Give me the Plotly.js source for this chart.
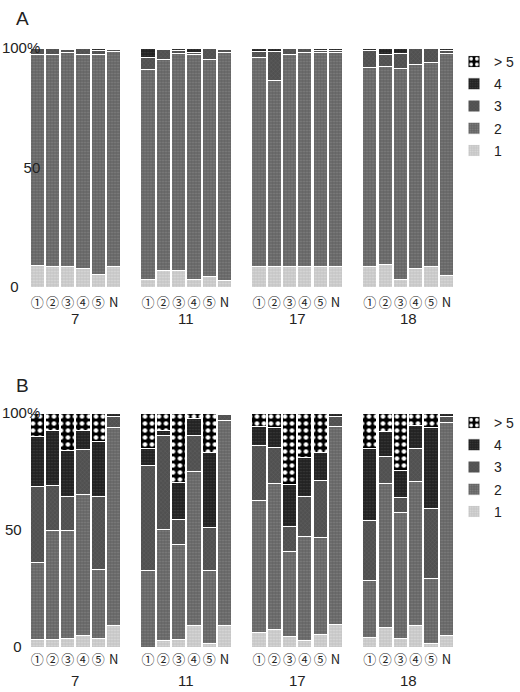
<!DOCTYPE html>
<html><head><meta charset="utf-8">
<script src="https://cdn.plot.ly/plotly-3.0.1.min.js"></script>
<style>html,body{margin:0;padding:0;background:#fff}#chart{width:520px;height:692px}</style>
</head><body><div id="chart"></div>
<script>
// ---- data ----
const groups = ['7', '11', '17', '18'];
const barLabels = ['①', '②', '③', '④', '⑤', 'N'];
const seriesNames = ['1', '2', '3', '4', '> 5'];

// Panel A (% of cells), 6 bars per group, groups in order 7, 11, 17, 18
const A1 = [8.9, 8.4, 8.4, 7.7, 5.1, 8.6,  3.3, 6.8, 6.8, 3.1, 4.4, 2.6,  8.4, 8.6, 8.6, 8.6, 8.6, 8.6,  8.6, 9.6, 3.1, 7.9, 8.4, 4.7];
const A2 = [88.4, 88.8, 89.6, 89.6, 92.1, 90.0,  87.5, 88.2, 91.0, 94.0, 90.6, 95.7,  87.7, 77.7, 88.6, 89.4, 89.7, 89.6,  83.3, 82.6, 88.5, 85.4, 85.6, 92.8];
const A3 = [2.7, 2.8, 1.2, 2.7, 1.9, 0.7,  5.4, 4.3, 1.0, 1.2, 5.0, 0.9,  2.4, 12.3, 2.8, 2.0, 0.5, 0.6,  7.1, 5.0, 6.2, 6.7, 6.0, 1.5];
const A4 = [0, 0, 0.8, 0, 0.9, 0.7,  3.8, 0.7, 1.2, 1.7, 0, 0.8,  1.5, 1.4, 0, 0, 1.2, 1.2,  1.0, 2.8, 2.2, 0, 0, 1.0];
const A5 = [0, 0, 0, 0, 0, 0,  0, 0, 0, 0, 0, 0,  0, 0, 0, 0, 0, 0,  0, 0, 0, 0, 0, 0];

// Panel B
const B1 = [3.0, 3.0, 3.7, 5.1, 3.7, 9.0,  0, 2.6, 3.0, 9.0, 1.6, 9.0,  6.0, 7.3, 4.5, 2.7, 5.2, 9.5,  4.1, 8.4, 3.7, 9.4, 1.6, 5.1];
const B2 = [33.2, 46.7, 46.3, 60.1, 29.5, 84.9,  32.6, 47.7, 40.6, 66.2, 31.0, 87.6,  56.4, 62.7, 36.2, 44.4, 41.6, 84.7,  24.5, 61.6, 53.7, 61.5, 27.8, 90.8];
const B3 = [32.6, 19.4, 14.5, 19.3, 31.0, 4.8,  44.8, 39.9, 11.0, 15.4, 18.6, 2.8,  23.6, 15.2, 10.9, 17.1, 24.2, 4.2,  25.4, 11.6, 6.6, 14.0, 29.9, 2.5];
const B4 = [21.1, 23.3, 19.3, 8.2, 23.8, 1.3,  7.5, 2.5, 15.6, 7.1, 31.8, 0.6,  8.2, 8.5, 18.0, 16.7, 12.3, 1.6,  30.9, 10.3, 11.6, 9.8, 34.4, 1.6];
const B5 = [10.1, 7.6, 16.2, 7.3, 12.0, 0,  15.1, 7.3, 29.8, 2.3, 17.0, 0,  5.8, 6.3, 30.4, 19.1, 16.7, 0,  15.1, 8.1, 24.4, 5.3, 6.3, 0];

// y tick labels (split between two label columns, as in the figure)
const yTickValsA_outer = [50, 100], yTickTextA_outer = ['50', '100%'];
const yTickValsA_inner = [0],       yTickTextA_inner = ['0'];
const yTickValsB_outer = [100],     yTickTextB_outer = ['100%'];
const yTickValsB_inner = [0, 50],   yTickTextB_inner = ['0', '50'];

// ---- build ----
const groupStep = 7.25;
const xPos = [], xText = [];
groups.forEach((g, gi) => barLabels.forEach((b, bi) => { xPos.push(gi * groupStep + bi); xText.push(b); }));
const groupCenters = groups.map((g, gi) => gi * groupStep + 2.5);

const styles = [
  {bg: '#c6c6c6', fg: '#dadada', shape: '.', size: 3, sol: 0.3},
  {bg: '#646464', fg: '#808080', shape: '.', size: 3, sol: 0.3},
  {bg: '#505050', fg: '#666666', shape: 'x', size: 3, sol: 0.2},
  {bg: '#222222', fg: '#3c3c3c', shape: '.', size: 3, sol: 0.25},
  {bg: '#000000', fg: '#ffffff', shape: '.', size: 7, sol: 0.33}
];

const traces = [];
function addPanel(series, xa, ya, leg, tag) {
  series.forEach((vals, si) => {
    const s = styles[si];
    traces.push({
      type: 'bar', x: xPos, y: vals, name: seriesNames[si],
      xaxis: xa, yaxis: ya, legend: leg, legendgroup: tag + si, legendrank: 10 - si,
      width: 0.93,
      marker: {color: s.bg, line: {color: '#ffffff', width: 1},
               pattern: {shape: s.shape, bgcolor: s.bg, fgcolor: s.fg, size: s.size, solidity: s.sol, fillmode: 'replace'}},
      hoverinfo: 'skip'
    });
  });
}
addPanel([A1, A2, A3, A4, A5], 'x', 'y', 'legend', 'A');
addPanel([B1, B2, B3, B4, B5], 'x2', 'y2', 'legend2', 'B');
// invisible helper traces so the secondary label axes get drawn
[['x', 'y3', yTickValsA_inner], ['x2', 'y4', yTickValsB_inner]].forEach(([xa, ya, vals]) => {
  traces.push({type: 'scatter', mode: 'markers', x: vals.map(() => xPos[0]), y: vals, xaxis: xa, yaxis: ya,
               marker: {opacity: 0, size: 1}, showlegend: false, hoverinfo: 'skip'});
});

const W = 520, H = 692;
const xDom = [30 / W, 462 / W];
const xRange = [-0.5, (groups.length - 1) * groupStep + barLabels.length - 0.5];
const sansFont = 'Liberation Sans, Arial, Noto Sans CJK JP, sans-serif';
const circFont = 'Noto Sans CJK JP, Liberation Sans, sans-serif';

function xAxis(anchor, standoff) {
  return {domain: xDom, range: xRange, anchor: anchor, tickvals: xPos, ticktext: xText,
          ticks: '', showline: false, showgrid: false, zeroline: false, tickangle: 0,
          tickfont: {size: 13, family: circFont, color: '#222'}, ticklabelstandoff: standoff, fixedrange: true};
}
function yAxis(dom, vals, text, posPx, overlay) {
  const ax = {range: [0, 100], tickvals: vals, ticktext: text,
          ticks: '', showline: false, showgrid: false, zeroline: false,
          anchor: 'free', position: posPx / W, tickfont: {size: 15, family: sansFont, color: '#222'}, fixedrange: true};
  if (overlay) ax.overlaying = overlay; else ax.domain = dom;
  return ax;
}
function legendAt(topPx) {
  return {x: 462 / W, xanchor: 'left', y: 1 - topPx / H, yanchor: 'top',
          traceorder: 'grouped', tracegroupgap: 1, bgcolor: 'rgba(0,0,0,0)',
          font: {size: 14, family: sansFont, color: '#222'}, itemclick: false, itemdoubleclick: false};
}

const annotations = [
  {text: 'A', xref: 'paper', yref: 'paper', x: 14 / W, y: 1 - 18 / H, xanchor: 'left', yanchor: 'middle', showarrow: false, font: {size: 19, family: sansFont, color: '#222'}},
  {text: 'B', xref: 'paper', yref: 'paper', x: 14 / W, y: 1 - 385 / H, xanchor: 'left', yanchor: 'middle', showarrow: false, font: {size: 19, family: sansFont, color: '#222'}}
];
groups.forEach((g, gi) => {
  annotations.push({text: g, xref: 'x', yref: 'paper', x: groupCenters[gi], y: 1 - 318 / H, yanchor: 'middle', showarrow: false, font: {size: 15, family: sansFont, color: '#222'}});
  annotations.push({text: g, xref: 'x2', yref: 'paper', x: groupCenters[gi], y: 1 - 680 / H, yanchor: 'middle', showarrow: false, font: {size: 15, family: sansFont, color: '#222'}});
});

const layout = {
  width: W, height: H, margin: {l: 0, r: 0, t: 0, b: 0},
  paper_bgcolor: '#ffffff', plot_bgcolor: 'rgba(0,0,0,0)',
  barmode: 'stack', showlegend: true,
  font: {family: sansFont, color: '#222', size: 14},
  xaxis: xAxis('y', 6),
  yaxis: yAxis([1 - 287 / H, 1 - 48 / H], yTickValsA_outer, yTickTextA_outer, 41),
  yaxis3: yAxis(null, yTickValsA_inner, yTickTextA_inner, 19, 'y'),
  xaxis2: xAxis('y2', 3),
  yaxis2: yAxis([1 - 647 / H, 1 - 413 / H], yTickValsB_outer, yTickTextB_outer, 41),
  yaxis4: yAxis(null, yTickValsB_inner, yTickTextB_inner, 22, 'y2'),
  legend: legendAt(46),
  legend2: legendAt(407),
  annotations: annotations
};

Plotly.newPlot('chart', traces, layout, {staticPlot: true, displayModeBar: false});
</script>
</body></html>
